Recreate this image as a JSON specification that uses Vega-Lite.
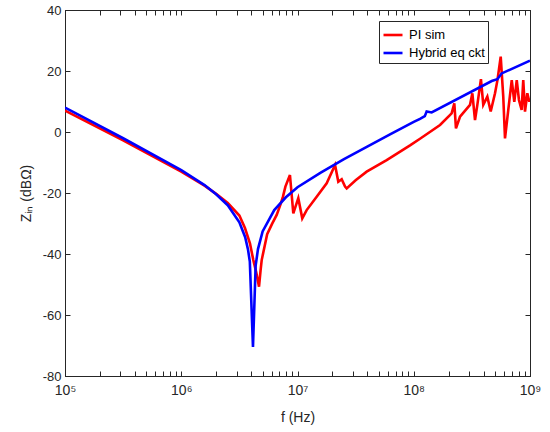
{
  "$schema": "https://vega.github.io/schema/vega-lite/v6.json",
  "width": 465,
  "height": 366,
  "autosize": "none",
  "padding": {"left": 65, "top": 10, "right": 20, "bottom": 56},
  "background": "white",
  "config": {
    "view": {"stroke": "#262626", "strokeWidth": 1},
    "font": "Liberation Sans",
    "axis": {
      "grid": false,
      "domainColor": "#262626",
      "tickColor": "#262626",
      "labelColor": "#262626",
      "titleColor": "#262626",
      "labelFont": "Liberation Sans",
      "titleFont": "Liberation Sans",
      "labelFontSize": 13,
      "titleFontSize": 13,
      "titleFontWeight": "normal",
      "tickSize": -5
    }
  },
  "data": {
    "values": [
      {"f": 100000, "z": 7.0, "series": "PI sim"},
      {"f": 316228, "z": -2.7, "series": "PI sim"},
      {"f": 1000000, "z": -13.0, "series": "PI sim"},
      {"f": 1585000, "z": -17.6, "series": "PI sim"},
      {"f": 1995000, "z": -20.3, "series": "PI sim"},
      {"f": 2512000, "z": -23.3, "series": "PI sim"},
      {"f": 3162000, "z": -27.4, "series": "PI sim"},
      {"f": 3532000, "z": -31.5, "series": "PI sim"},
      {"f": 3899000, "z": -36.5, "series": "PI sim"},
      {"f": 4169000, "z": -42.0, "series": "PI sim"},
      {"f": 4416000, "z": -46.0, "series": "PI sim"},
      {"f": 4667000, "z": -50.7, "series": "PI sim"},
      {"f": 4808000, "z": -45.5, "series": "PI sim"},
      {"f": 4920000, "z": -42.0, "series": "PI sim"},
      {"f": 5483000, "z": -33.5, "series": "PI sim"},
      {"f": 6026000, "z": -30.2, "series": "PI sim"},
      {"f": 6622000, "z": -27.2, "series": "PI sim"},
      {"f": 7129000, "z": -23.8, "series": "PI sim"},
      {"f": 7499000, "z": -21.2, "series": "PI sim"},
      {"f": 7870000, "z": -17.9, "series": "PI sim"},
      {"f": 8610000, "z": -14.1, "series": "PI sim"},
      {"f": 9204000, "z": -26.7, "series": "PI sim"},
      {"f": 10160000, "z": -21.7, "series": "PI sim"},
      {"f": 10990000, "z": -28.3, "series": "PI sim"},
      {"f": 11990000, "z": -25.6, "series": "PI sim"},
      {"f": 14620000, "z": -21.2, "series": "PI sim"},
      {"f": 17820000, "z": -16.8, "series": "PI sim"},
      {"f": 21040000, "z": -10.8, "series": "PI sim"},
      {"f": 22440000, "z": -16.3, "series": "PI sim"},
      {"f": 23990000, "z": -15.5, "series": "PI sim"},
      {"f": 25640000, "z": -17.9, "series": "PI sim"},
      {"f": 26490000, "z": -18.5, "series": "PI sim"},
      {"f": 31620000, "z": -15.8, "series": "PI sim"},
      {"f": 39360000, "z": -13.0, "series": "PI sim"},
      {"f": 58480000, "z": -9.2, "series": "PI sim"},
      {"f": 92900000, "z": -4.4, "series": "PI sim"},
      {"f": 113200000, "z": -2.2, "series": "PI sim"},
      {"f": 168300000, "z": 2.3, "series": "PI sim"},
      {"f": 211800000, "z": 6.1, "series": "PI sim"},
      {"f": 223400000, "z": 9.4, "series": "PI sim"},
      {"f": 230700000, "z": 1.2, "series": "PI sim"},
      {"f": 250000000, "z": 5.0, "series": "PI sim"},
      {"f": 304800000, "z": 8.9, "series": "PI sim"},
      {"f": 319200000, "z": 12.7, "series": "PI sim"},
      {"f": 336500000, "z": 3.9, "series": "PI sim"},
      {"f": 352400000, "z": 8.9, "series": "PI sim"},
      {"f": 378400000, "z": 17.3, "series": "PI sim"},
      {"f": 396300000, "z": 8.9, "series": "PI sim"},
      {"f": 429500000, "z": 11.6, "series": "PI sim"},
      {"f": 459200000, "z": 6.7, "series": "PI sim"},
      {"f": 500000000, "z": 12.7, "series": "PI sim"},
      {"f": 524800000, "z": 17.0, "series": "PI sim"},
      {"f": 559800000, "z": 24.7, "series": "PI sim"},
      {"f": 588800000, "z": 11.6, "series": "PI sim"},
      {"f": 609500000, "z": -2.1, "series": "PI sim"},
      {"f": 650100000, "z": 7.2, "series": "PI sim"},
      {"f": 696600000, "z": 17.0, "series": "PI sim"},
      {"f": 732800000, "z": 9.9, "series": "PI sim"},
      {"f": 769100000, "z": 17.0, "series": "PI sim"},
      {"f": 803500000, "z": 10.5, "series": "PI sim"},
      {"f": 847200000, "z": 7.2, "series": "PI sim"},
      {"f": 875000000, "z": 17.0, "series": "PI sim"},
      {"f": 905700000, "z": 6.7, "series": "PI sim"},
      {"f": 948400000, "z": 12.7, "series": "PI sim"},
      {"f": 986300000, "z": 9.9, "series": "PI sim"},
      {"f": 1000000000, "z": 11.0, "series": "PI sim"},
      {"f": 100000, "z": 8.0, "series": "Hybrid eq ckt"},
      {"f": 316228, "z": -2.05, "series": "Hybrid eq ckt"},
      {"f": 1000000, "z": -12.5, "series": "Hybrid eq ckt"},
      {"f": 1585000, "z": -17.4, "series": "Hybrid eq ckt"},
      {"f": 1995000, "z": -20.4, "series": "Hybrid eq ckt"},
      {"f": 2512000, "z": -24.0, "series": "Hybrid eq ckt"},
      {"f": 3162000, "z": -29.6, "series": "Hybrid eq ckt"},
      {"f": 3548000, "z": -34.5, "series": "Hybrid eq ckt"},
      {"f": 3750000, "z": -38.5, "series": "Hybrid eq ckt"},
      {"f": 3890000, "z": -42.5, "series": "Hybrid eq ckt"},
      {"f": 4140000, "z": -70.5, "series": "Hybrid eq ckt"},
      {"f": 4365000, "z": -43.8, "series": "Hybrid eq ckt"},
      {"f": 4571000, "z": -38.4, "series": "Hybrid eq ckt"},
      {"f": 5012000, "z": -32.6, "series": "Hybrid eq ckt"},
      {"f": 6310000, "z": -25.6, "series": "Hybrid eq ckt"},
      {"f": 7943000, "z": -21.4, "series": "Hybrid eq ckt"},
      {"f": 10000000, "z": -18.1, "series": "Hybrid eq ckt"},
      {"f": 15850000, "z": -13.3, "series": "Hybrid eq ckt"},
      {"f": 25120000, "z": -8.9, "series": "Hybrid eq ckt"},
      {"f": 39810000, "z": -4.8, "series": "Hybrid eq ckt"},
      {"f": 63100000, "z": -0.7, "series": "Hybrid eq ckt"},
      {"f": 100000000, "z": 3.3, "series": "Hybrid eq ckt"},
      {"f": 113200000, "z": 4.3, "series": "Hybrid eq ckt"},
      {"f": 124500000, "z": 5.2, "series": "Hybrid eq ckt"},
      {"f": 129100000, "z": 6.7, "series": "Hybrid eq ckt"},
      {"f": 142600000, "z": 6.4, "series": "Hybrid eq ckt"},
      {"f": 468800000, "z": 16.7, "series": "Hybrid eq ckt"},
      {"f": 523600000, "z": 17.3, "series": "Hybrid eq ckt"},
      {"f": 570200000, "z": 19.2, "series": "Hybrid eq ckt"},
      {"f": 1000000000, "z": 23.4, "series": "Hybrid eq ckt"}
    ]
  },
  "layer": [
    {
      "transform": [{"filter": "datum.series === 'PI sim'"}],
      "mark": {"type": "line", "strokeWidth": 2.6, "clip": true},
      "encoding": {
        "x": {
          "field": "f",
          "type": "quantitative",
          "scale": {"type": "log", "domain": [100000, 1000000000], "nice": false},
          "axis": {
            "orient": "bottom",
            "values": [100000,200000,300000,400000,500000,600000,700000,800000,900000,1000000,2000000,3000000,4000000,5000000,6000000,7000000,8000000,9000000,10000000,20000000,30000000,40000000,50000000,60000000,70000000,80000000,90000000,100000000,200000000,300000000,400000000,500000000,600000000,700000000,800000000,900000000,1000000000],
            "labelExpr": "datum.value == 100000 ? '10⁵' : datum.value == 1000000 ? '10⁶' : datum.value == 10000000 ? '10⁷' : datum.value == 100000000 ? '10⁸' : datum.value == 1000000000 ? '10⁹' : ''",
            "labelFontSize": 14,
            "labelPadding": 12,
            "labelFlush": false,
            "labelOverlap": false,
            "title": "f (Hz)",
            "titleFontSize": 14,
            "titlePadding": 13
          }
        },
        "y": {
          "field": "z",
          "type": "quantitative",
          "scale": {"domain": [-80, 40], "nice": false},
          "axis": {
            "orient": "left",
            "values": [-80, -60, -40, -20, 0, 20, 40],
            "labelExpr": "toString(datum.value)",
            "labelPadding": 9,
            "title": "Zᵢₙ (dBΩ)",
            "titleFontSize": 14,
            "titlePadding": 9
          }
        },
        "color": {
          "field": "series",
          "type": "nominal",
          "scale": {"domain": ["PI sim", "Hybrid eq ckt"], "range": ["#ff0000", "#0000ff"]},
          "legend": {
            "title": null,
            "orient": "none",
            "legendX": 314,
            "legendY": 11,
            "symbolType": "stroke",
            "symbolStrokeWidth": 2.6,
            "symbolSize": 361,
            "labelFont": "Liberation Sans",
            "labelFontSize": 13,
            "labelColor": "#000000",
            "labelOffset": 5,
            "strokeColor": "#262626",
            "fillColor": "white",
            "padding": 3,
            "rowPadding": 0,
            "symbolOffset": 0
          }
        }
      }
    },
    {
      "transform": [{"filter": "datum.series === 'Hybrid eq ckt'"}],
      "mark": {"type": "line", "strokeWidth": 2.6, "clip": true},
      "encoding": {
        "x": {
          "field": "f",
          "type": "quantitative",
          "scale": {"type": "log", "domain": [100000, 1000000000], "nice": false},
          "axis": {
            "orient": "top",
            "values": [100000,200000,300000,400000,500000,600000,700000,800000,900000,1000000,2000000,3000000,4000000,5000000,6000000,7000000,8000000,9000000,10000000,20000000,30000000,40000000,50000000,60000000,70000000,80000000,90000000,100000000,200000000,300000000,400000000,500000000,600000000,700000000,800000000,900000000,1000000000],
            "labels": false,
            "title": null
          }
        },
        "y": {
          "field": "z",
          "type": "quantitative",
          "scale": {"domain": [-80, 40], "nice": false},
          "axis": {
            "orient": "right",
            "values": [-80, -60, -40, -20, 0, 20, 40],
            "labels": false,
            "title": null
          }
        },
        "color": {
          "field": "series",
          "type": "nominal",
          "scale": {"domain": ["PI sim", "Hybrid eq ckt"], "range": ["#ff0000", "#0000ff"]}
        }
      }
    }
  ],
  "resolve": {"axis": {"x": "independent", "y": "independent"}}
}
